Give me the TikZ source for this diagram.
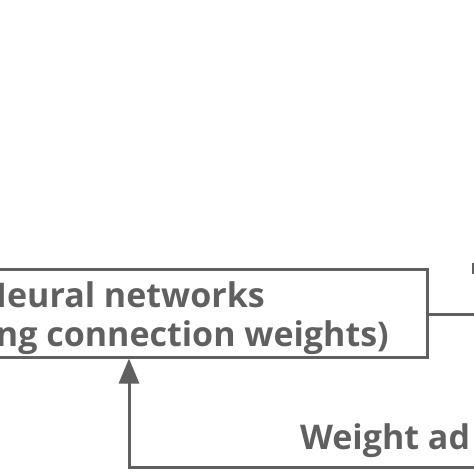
\documentclass[tikz,border=0pt]{standalone}
\usepackage{fontspec}
\setmainfont{Open Sans}
\usetikzlibrary{arrows.meta}
\definecolor{ink}{HTML}{606060}
\begin{document}
\begin{tikzpicture}[x=1pt,y=-1pt,
  line/.style={draw=ink,line width=3pt},
  lbl/.style={text=ink,font=\fontsize{34}{40}\selectfont\bfseries,inner sep=0pt},
  tip/.style={-{Triangle[length=25pt,width=20pt]}}]
\useasboundingbox (0,0) rectangle (474,474);
\clip (0,0) rectangle (474,474);
\node[line,minimum width=432pt,minimum height=88pt,inner sep=0pt] (nn) at (211,313) {};
\node[lbl,anchor=base east] (t1) at (265,307) {Neural networks};
\node[lbl,anchor=base east] (t2) at (389,346) {ng connection weights)};
\node[lbl,anchor=base west] (t3) at (300,449) {Weight ad};
\coordinate (b1) at (129,467);
\coordinate (b2) at (480,467);
\coordinate (r1) at (480,314);
\draw[line] (nn.east |- r1) -- (r1);
\draw[line,tip] (b2) -- (b1) -- (b1 |- nn.south);
\draw[draw=ink,line width=2pt] (473,263) -- (473,274);
\end{tikzpicture}
\end{document}
